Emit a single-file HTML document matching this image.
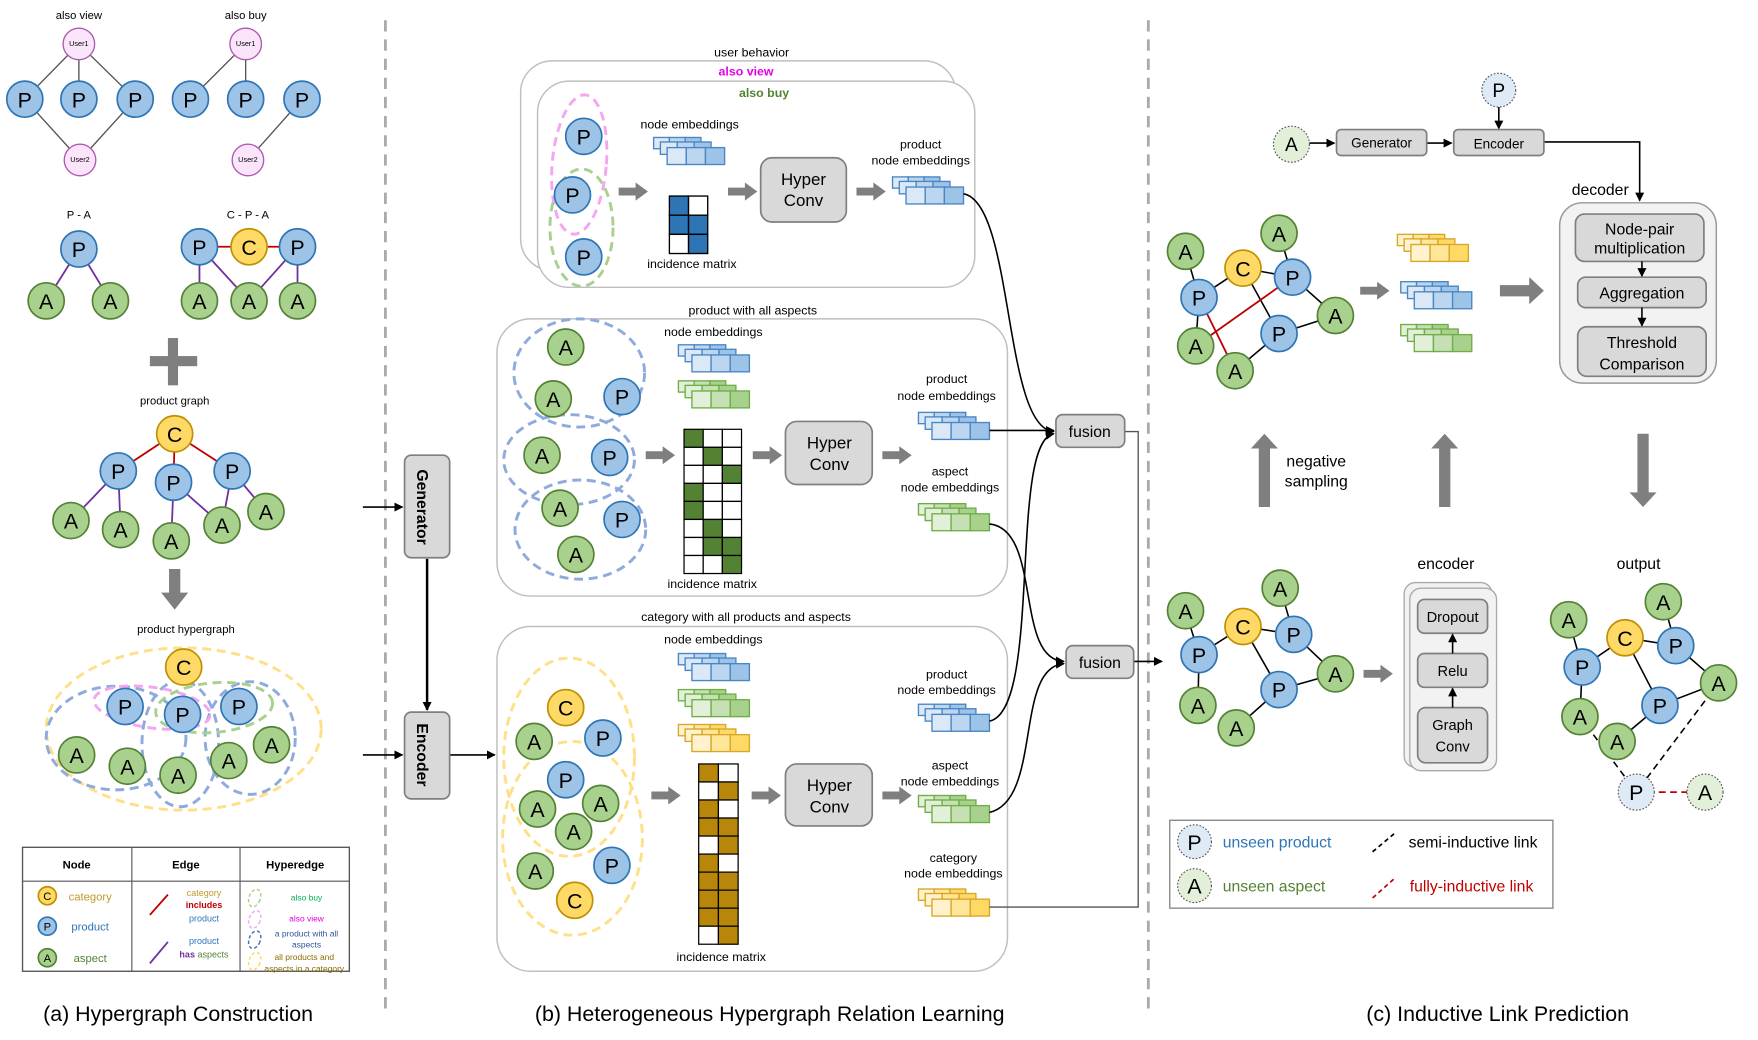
<!DOCTYPE html>
<html><head><meta charset="utf-8"><style>
html,body{margin:0;padding:0;background:#fff}
svg{display:block}
text{font-family:"Liberation Sans",sans-serif;fill:#000}
.p{fill:#9dc3e6;stroke:#2e75b6;stroke-width:1.5}
.a{fill:#a9d18e;stroke:#548235;stroke-width:1.5}
.c{fill:#ffd966;stroke:#bf9000;stroke-width:1.5}
.u{fill:#fbe5fb;stroke:#b05ab0;stroke-width:1.2}
.n{font-size:19px;text-anchor:middle;dominant-baseline:central}
.s{text-anchor:middle}
.box{fill:#d9d9d9;stroke:#7f7f7f;stroke-width:1.5}
.bl{stroke:#000;stroke-width:1.4;fill:none}
.pu{stroke:#7030a0;stroke-width:1.6}
.rd{stroke:#c00000;stroke-width:1.6}
.gray{stroke:#555;stroke-width:1.2}
.dash{fill:none;stroke-width:2.6;stroke-dasharray:8 5}
.panel{fill:#fff;stroke:#bfbfbf;stroke-width:1.3}
</style></head><body>
<svg width="1758" height="1040" viewBox="0 0 1560 923" preserveAspectRatio="none" font-size="11" xmlns="http://www.w3.org/2000/svg">
<defs>
<path id="ar" d="M0,-3.5 H15 V-8 L26,0 L15,8 V3.5 H0 Z" fill="#7f7f7f"/>
<marker id="mk" markerWidth="8" markerHeight="8" refX="7" refY="4" orient="auto" markerUnits="userSpaceOnUse"><path d="M0,0 L8,4 L0,8 Z" fill="#000"/></marker>
<g id="embB">
<g stroke="#4a86c5" stroke-width="1.2"><rect x="0" y="0" width="14" height="10" fill="#dbe9f7"/><rect x="14" y="0" width="14" height="10" fill="#bcd6ef"/><rect x="28" y="0" width="14" height="10" fill="#9dc3e6"/>
<rect x="6" y="4" width="15" height="11" fill="#dbe9f7"/><rect x="21" y="4" width="15" height="11" fill="#bcd6ef"/><rect x="36" y="4" width="15" height="11" fill="#9dc3e6"/>
<rect x="12" y="9" width="17" height="15" fill="#dbe9f7"/><rect x="29" y="9" width="17" height="15" fill="#bcd6ef"/><rect x="46" y="9" width="17" height="15" fill="#9dc3e6"/></g></g>
<g id="embG">
<g stroke="#70ad47" stroke-width="1.2"><rect x="0" y="0" width="14" height="10" fill="#e2f0d9"/><rect x="14" y="0" width="14" height="10" fill="#c5e0b4"/><rect x="28" y="0" width="14" height="10" fill="#a9d18e"/>
<rect x="6" y="4" width="15" height="11" fill="#e2f0d9"/><rect x="21" y="4" width="15" height="11" fill="#c5e0b4"/><rect x="36" y="4" width="15" height="11" fill="#a9d18e"/>
<rect x="12" y="9" width="17" height="15" fill="#e2f0d9"/><rect x="29" y="9" width="17" height="15" fill="#c5e0b4"/><rect x="46" y="9" width="17" height="15" fill="#a9d18e"/></g></g>
<g id="embY">
<g stroke="#d6a728" stroke-width="1.2"><rect x="0" y="0" width="14" height="10" fill="#fff2cc"/><rect x="14" y="0" width="14" height="10" fill="#ffe699"/><rect x="28" y="0" width="14" height="10" fill="#ffd966"/>
<rect x="6" y="4" width="15" height="11" fill="#fff2cc"/><rect x="21" y="4" width="15" height="11" fill="#ffe699"/><rect x="36" y="4" width="15" height="11" fill="#ffd966"/>
<rect x="12" y="9" width="17" height="15" fill="#fff2cc"/><rect x="29" y="9" width="17" height="15" fill="#ffe699"/><rect x="46" y="9" width="17" height="15" fill="#ffd966"/></g></g>
</defs>

<line x1="342" y1="18" x2="342" y2="895" stroke="#aaa" stroke-width="2.5" stroke-dasharray="10 7"/>
<line x1="1019" y1="18" x2="1019" y2="895" stroke="#aaa" stroke-width="2.5" stroke-dasharray="10 7"/>

<!-- ===== Panel (a) ===== -->
<text x="70" y="17" class="s" font-size="10">also view</text>
<text x="218" y="17" class="s" font-size="10">also buy</text>
<g class="gray">
<line x1="70" y1="39" x2="22" y2="88"/><line x1="70" y1="39" x2="70" y2="88"/><line x1="70" y1="39" x2="120" y2="88"/>
<line x1="22" y1="88" x2="71" y2="142"/><line x1="120" y1="88" x2="71" y2="142"/>
<line x1="218" y1="39" x2="169" y2="88"/><line x1="218" y1="39" x2="218" y2="88"/><line x1="268" y1="88" x2="220" y2="142"/>
</g>
<circle cx="70" cy="39" r="14" class="u"/><text x="70" y="41" class="s" font-size="6.5">User1</text>
<circle cx="71" cy="142" r="14" class="u"/><text x="71" y="144" class="s" font-size="6.5">User2</text>
<circle cx="218" cy="39" r="14" class="u"/><text x="218" y="41" class="s" font-size="6.5">User1</text>
<circle cx="220" cy="142" r="14" class="u"/><text x="220" y="144" class="s" font-size="6.5">User2</text>
<circle cx="22" cy="88" r="16" class="p"/><text x="22" y="89" class="n">P</text>
<circle cx="70" cy="88" r="16" class="p"/><text x="70" y="89" class="n">P</text>
<circle cx="120" cy="88" r="16" class="p"/><text x="120" y="89" class="n">P</text>
<circle cx="169" cy="88" r="16" class="p"/><text x="169" y="89" class="n">P</text>
<circle cx="218" cy="88" r="16" class="p"/><text x="218" y="89" class="n">P</text>
<circle cx="268" cy="88" r="16" class="p"/><text x="268" y="89" class="n">P</text>
<text x="70" y="194" class="s" font-size="10">P - A</text>
<text x="220" y="194" class="s" font-size="10">C - P - A</text>
<line x1="70" y1="221" x2="41" y2="267" class="pu"/><line x1="70" y1="221" x2="98" y2="267" class="pu"/>
<line x1="177" y1="219" x2="264" y2="219" class="rd"/>
<line x1="177" y1="219" x2="177" y2="267" class="pu"/><line x1="177" y1="219" x2="221" y2="267" class="pu"/>
<line x1="264" y1="219" x2="221" y2="267" class="pu"/><line x1="264" y1="219" x2="264" y2="267" class="pu"/>
<circle cx="70" cy="221" r="16" class="p"/><text x="70" y="222" class="n">P</text>
<circle cx="41" cy="267" r="16" class="a"/><text x="41" y="268" class="n">A</text>
<circle cx="98" cy="267" r="16" class="a"/><text x="98" y="268" class="n">A</text>
<circle cx="177" cy="219" r="16" class="p"/><text x="177" y="220" class="n">P</text>
<circle cx="221" cy="219" r="16" class="c"/><text x="221" y="220" class="n">C</text>
<circle cx="264" cy="219" r="16" class="p"/><text x="264" y="220" class="n">P</text>
<circle cx="177" cy="267" r="16" class="a"/><text x="177" y="268" class="n">A</text>
<circle cx="221" cy="267" r="16" class="a"/><text x="221" y="268" class="n">A</text>
<circle cx="264" cy="267" r="16" class="a"/><text x="264" y="268" class="n">A</text>
<rect x="133" y="316" width="42" height="9" fill="#7f7f7f"/><rect x="149" y="300" width="9" height="42" fill="#7f7f7f"/>
<text x="155" y="359" class="s" font-size="10">product graph</text>
<line x1="155" y1="385" x2="105" y2="418" class="rd"/><line x1="155" y1="385" x2="154" y2="428" class="rd"/><line x1="155" y1="385" x2="206" y2="418" class="rd"/>
<line x1="105" y1="418" x2="63" y2="462" class="pu"/><line x1="105" y1="418" x2="107" y2="470" class="pu"/>
<line x1="154" y1="428" x2="152" y2="480" class="pu"/><line x1="154" y1="428" x2="197" y2="466" class="pu"/>
<line x1="206" y1="418" x2="197" y2="466" class="pu"/><line x1="206" y1="418" x2="236" y2="454" class="pu"/>
<circle cx="155" cy="385" r="16" class="c"/><text x="155" y="386" class="n">C</text>
<circle cx="105" cy="418" r="16" class="p"/><text x="105" y="419" class="n">P</text>
<circle cx="154" cy="428" r="16" class="p"/><text x="154" y="429" class="n">P</text>
<circle cx="206" cy="418" r="16" class="p"/><text x="206" y="419" class="n">P</text>
<circle cx="63" cy="462" r="16" class="a"/><text x="63" y="463" class="n">A</text>
<circle cx="107" cy="470" r="16" class="a"/><text x="107" y="471" class="n">A</text>
<circle cx="152" cy="480" r="16" class="a"/><text x="152" y="481" class="n">A</text>
<circle cx="197" cy="466" r="16" class="a"/><text x="197" y="467" class="n">A</text>
<circle cx="236" cy="454" r="16" class="a"/><text x="236" y="455" class="n">A</text>
<path d="M150,505 H160 V526 H167 L155,541 L143,526 H150 Z" fill="#7f7f7f"/>
<text x="165" y="562" class="s" font-size="10">product hypergraph</text>
<ellipse cx="163" cy="647" rx="122" ry="72" class="dash" stroke="#ffe08a"/>
<ellipse cx="103" cy="655" rx="62" ry="46" class="dash" stroke="#8faadc"/>
<ellipse cx="160" cy="660" rx="34" ry="56" class="dash" stroke="#8faadc"/>
<ellipse cx="222" cy="655" rx="40" ry="50" class="dash" stroke="#8faadc"/>
<ellipse cx="135" cy="628" rx="52" ry="18" transform="rotate(8 135 628)" class="dash" stroke="#f4a6f0"/>
<ellipse cx="190" cy="628" rx="52" ry="22" transform="rotate(-5 190 628)" class="dash" stroke="#a9d18e"/>
<circle cx="163" cy="592" r="16" class="c"/><text x="163" y="593" class="n">C</text>
<circle cx="111" cy="627" r="16" class="p"/><text x="111" y="628" class="n">P</text>
<circle cx="162" cy="634" r="16" class="p"/><text x="162" y="635" class="n">P</text>
<circle cx="212" cy="627" r="16" class="p"/><text x="212" y="628" class="n">P</text>
<circle cx="68" cy="670" r="16" class="a"/><text x="68" y="671" class="n">A</text>
<circle cx="113" cy="680" r="16" class="a"/><text x="113" y="681" class="n">A</text>
<circle cx="158" cy="688" r="16" class="a"/><text x="158" y="689" class="n">A</text>
<circle cx="203" cy="675" r="16" class="a"/><text x="203" y="676" class="n">A</text>
<circle cx="241" cy="661" r="16" class="a"/><text x="241" y="662" class="n">A</text>
<rect x="20" y="752" width="290" height="110" fill="#fff" stroke="#555" stroke-width="1.2"/>
<line x1="20" y1="782" x2="310" y2="782" stroke="#555"/>
<line x1="117" y1="752" x2="117" y2="862" stroke="#555"/><line x1="213" y1="752" x2="213" y2="862" stroke="#555"/>
<text x="68" y="771" class="s" font-size="10" font-weight="bold">Node</text>
<text x="165" y="771" class="s" font-size="10" font-weight="bold">Edge</text>
<text x="262" y="771" class="s" font-size="10" font-weight="bold">Hyperedge</text>
<circle cx="42" cy="795" r="8" class="c"/><text x="42" y="796" class="n" style="font-size:10px">C</text>
<circle cx="42" cy="822" r="8" class="p"/><text x="42" y="823" class="n" style="font-size:10px">P</text>
<circle cx="42" cy="850" r="8" class="a"/><text x="42" y="851" class="n" style="font-size:10px">A</text>
<text x="80" y="799" class="s" font-size="10" style="fill:#c09a2a">category</text>
<text x="80" y="826" class="s" font-size="10" style="fill:#2e75b6">product</text>
<text x="80" y="854" class="s" font-size="10" style="fill:#548235">aspect</text>
<line x1="133" y1="812" x2="149" y2="794" class="rd"/>
<line x1="133" y1="855" x2="149" y2="836" class="pu"/>
<text x="181" y="795" class="s" font-size="8" style="fill:#c09a2a">category</text>
<text x="181" y="806" class="s" font-size="8" font-weight="bold" style="fill:#c00000">includes</text>
<text x="181" y="818" class="s" font-size="8" style="fill:#2e75b6">product</text>
<text x="181" y="838" class="s" font-size="8" style="fill:#2e75b6">product</text>
<text x="181" y="850" class="s" font-size="8"><tspan font-weight="bold" style="fill:#7030a0">has</tspan><tspan style="fill:#548235"> aspects</tspan></text>
<g fill="none" stroke-width="1.3" stroke-dasharray="3 2">
<ellipse cx="226" cy="797" rx="5" ry="8" transform="rotate(20 226 797)" stroke="#a9d18e"/>
<ellipse cx="226" cy="816" rx="5" ry="8" transform="rotate(20 226 816)" stroke="#f4a6f0"/>
<ellipse cx="226" cy="834" rx="5" ry="8" transform="rotate(20 226 834)" stroke="#4472c4"/>
<ellipse cx="226" cy="853" rx="5" ry="8" transform="rotate(20 226 853)" stroke="#ffd966"/>
</g>
<text x="272" y="799" class="s" font-size="7.5" style="fill:#00b050">also buy</text>
<text x="272" y="818" class="s" font-size="7.5" style="fill:#e000e0">also view</text>
<text x="272" y="831" class="s" font-size="7.5" style="fill:#2f5597">a product with all</text>
<text x="272" y="841" class="s" font-size="7.5" style="fill:#2f5597">aspects</text>
<text x="270" y="852" class="s" font-size="7.5" style="fill:#8a6d00">all products and</text>
<text x="270" y="862" class="s" font-size="7.5" style="fill:#8a6d00">aspects in a category</text>
<text x="158" y="906" class="s" font-size="19">(a) Hypergraph Construction</text>

<!-- ===== Panel (b) ===== -->
<line x1="322" y1="450" x2="357" y2="450" class="bl" marker-end="url(#mk)"/>
<line x1="322" y1="670" x2="357" y2="670" class="bl" marker-end="url(#mk)"/>
<line x1="379" y1="496" x2="379" y2="630" stroke="#000" stroke-width="2.2" marker-end="url(#mk)"/>
<line x1="399" y1="670" x2="439" y2="670" class="bl" marker-end="url(#mk)"/>
<rect x="359" y="404" width="40" height="91" rx="6" class="box"/>
<text transform="translate(374 450) rotate(90)" class="s" font-size="14" font-weight="bold" dominant-baseline="central">Generator</text>
<rect x="359" y="632" width="40" height="77" rx="6" class="box"/>
<text transform="translate(374 670) rotate(90)" class="s" font-size="14" font-weight="bold" dominant-baseline="central">Encoder</text>

<rect x="462" y="54" width="386" height="186" rx="28" class="panel"/>
<rect x="477" y="72" width="388" height="183" rx="28" class="panel"/>
<text x="667" y="50" class="s">user behavior</text>
<text x="662" y="67" class="s" font-weight="bold" style="fill:#e600e6">also view</text>
<text x="678" y="86" class="s" font-weight="bold" style="fill:#548235">also buy</text>
<ellipse cx="514" cy="146" rx="24" ry="62" transform="rotate(5 514 146)" class="dash" stroke="#f4a6f0"/>
<ellipse cx="516" cy="202" rx="28" ry="52" class="dash" stroke="#a9d18e"/>
<circle cx="518" cy="121" r="16" class="p"/><text x="518" y="122" class="n">P</text>
<circle cx="508" cy="173" r="16" class="p"/><text x="508" y="174" class="n">P</text>
<circle cx="518" cy="228" r="16" class="p"/><text x="518" y="229" class="n">P</text>
<text x="612" y="114" class="s">node embeddings</text>
<use href="#embB" x="580" y="122"/>
<use href="#ar" x="549" y="170"/>
<g stroke="#000" stroke-width="1.2">
<rect x="594" y="174" width="17" height="17" fill="#2e75b6"/><rect x="611" y="174" width="17" height="17" fill="#fff"/>
<rect x="594" y="191" width="17" height="17" fill="#2e75b6"/><rect x="611" y="191" width="17" height="17" fill="#2e75b6"/>
<rect x="594" y="208" width="17" height="17" fill="#fff"/><rect x="611" y="208" width="17" height="17" fill="#2e75b6"/>
</g>
<text x="614" y="238" class="s">incidence matrix</text>
<use href="#ar" x="646" y="170"/>
<rect x="675" y="140" width="76" height="57" rx="10" class="box"/>
<text x="713" y="164" class="s" font-size="15">Hyper</text><text x="713" y="183" class="s" font-size="15">Conv</text>
<use href="#ar" x="760" y="170"/>
<text x="817" y="132" class="s">product</text><text x="817" y="146" class="s">node embeddings</text>
<use href="#embB" x="792" y="157"/>

<rect x="441" y="283" width="453" height="246" rx="30" class="panel"/>
<text x="668" y="279" class="s">product with all aspects</text>
<ellipse cx="514" cy="331" rx="58" ry="48" class="dash" stroke="#8faadc"/>
<ellipse cx="505" cy="408" rx="58" ry="40" class="dash" stroke="#8faadc"/>
<ellipse cx="515" cy="470" rx="58" ry="44" class="dash" stroke="#8faadc"/>
<circle cx="502" cy="308" r="16" class="a"/><text x="502" y="309" class="n">A</text>
<circle cx="491" cy="354" r="16" class="a"/><text x="491" y="355" class="n">A</text>
<circle cx="552" cy="352" r="16" class="p"/><text x="552" y="353" class="n">P</text>
<circle cx="481" cy="404" r="16" class="a"/><text x="481" y="405" class="n">A</text>
<circle cx="541" cy="406" r="16" class="p"/><text x="541" y="407" class="n">P</text>
<circle cx="497" cy="451" r="16" class="a"/><text x="497" y="452" class="n">A</text>
<circle cx="552" cy="461" r="16" class="p"/><text x="552" y="462" class="n">P</text>
<circle cx="511" cy="492" r="16" class="a"/><text x="511" y="493" class="n">A</text>
<text x="633" y="298" class="s">node embeddings</text>
<use href="#embB" x="602" y="306"/>
<use href="#embG" x="602" y="338"/>
<use href="#ar" x="573" y="404"/>
<g stroke="#000" stroke-width="1.1" fill="#fff">
<rect x="607" y="381" width="17" height="16" fill="#548235"/><rect x="624" y="381" width="17" height="16"/><rect x="641" y="381" width="17" height="16"/>
<rect x="607" y="397" width="17" height="16"/><rect x="624" y="397" width="17" height="16" fill="#548235"/><rect x="641" y="397" width="17" height="16"/>
<rect x="607" y="413" width="17" height="16"/><rect x="624" y="413" width="17" height="16"/><rect x="641" y="413" width="17" height="16" fill="#548235"/>
<rect x="607" y="429" width="17" height="16" fill="#548235"/><rect x="624" y="429" width="17" height="16"/><rect x="641" y="429" width="17" height="16"/>
<rect x="607" y="445" width="17" height="16" fill="#548235"/><rect x="624" y="445" width="17" height="16"/><rect x="641" y="445" width="17" height="16"/>
<rect x="607" y="461" width="17" height="16"/><rect x="624" y="461" width="17" height="16" fill="#548235"/><rect x="641" y="461" width="17" height="16"/>
<rect x="607" y="477" width="17" height="16"/><rect x="624" y="477" width="17" height="16" fill="#548235"/><rect x="641" y="477" width="17" height="16" fill="#548235"/>
<rect x="607" y="493" width="17" height="16"/><rect x="624" y="493" width="17" height="16"/><rect x="641" y="493" width="17" height="16" fill="#548235"/>
</g>
<text x="632" y="522" class="s">incidence matrix</text>
<use href="#ar" x="668" y="404"/>
<rect x="697" y="374" width="77" height="56" rx="10" class="box"/>
<text x="736" y="398" class="s" font-size="15">Hyper</text><text x="736" y="417" class="s" font-size="15">Conv</text>
<use href="#ar" x="783" y="404"/>
<text x="840" y="340" class="s">product</text><text x="840" y="355" class="s">node embeddings</text>
<use href="#embB" x="815" y="366"/>
<text x="843" y="422" class="s">aspect</text><text x="843" y="436" class="s">node embeddings</text>
<use href="#embG" x="815" y="447"/>

<rect x="441" y="556" width="453" height="306" rx="30" class="panel"/>
<text x="662" y="551" class="s">category with all products and aspects</text>
<ellipse cx="505" cy="672" rx="58" ry="88" class="dash" stroke="#ffe08a"/>
<ellipse cx="508" cy="744" rx="62" ry="86" class="dash" stroke="#ffe08a"/>
<circle cx="502" cy="628" r="16" class="c"/><text x="502" y="629" class="n">C</text>
<circle cx="474" cy="658" r="16" class="a"/><text x="474" y="659" class="n">A</text>
<circle cx="535" cy="655" r="16" class="p"/><text x="535" y="656" class="n">P</text>
<circle cx="502" cy="692" r="16" class="p"/><text x="502" y="693" class="n">P</text>
<circle cx="477" cy="718" r="16" class="a"/><text x="477" y="719" class="n">A</text>
<circle cx="533" cy="713" r="16" class="a"/><text x="533" y="714" class="n">A</text>
<circle cx="509" cy="738" r="16" class="a"/><text x="509" y="739" class="n">A</text>
<circle cx="475" cy="773" r="16" class="a"/><text x="475" y="774" class="n">A</text>
<circle cx="543" cy="768" r="16" class="p"/><text x="543" y="769" class="n">P</text>
<circle cx="510" cy="799" r="16" class="c"/><text x="510" y="800" class="n">C</text>
<text x="633" y="571" class="s">node embeddings</text>
<use href="#embB" x="602" y="580"/>
<use href="#embG" x="602" y="612"/>
<use href="#embY" x="602" y="643"/>
<use href="#ar" x="578" y="706"/>
<g stroke="#000" stroke-width="1.1" fill="#fff">
<rect x="620" y="678" width="17.5" height="16" fill="#b8860b"/><rect x="637.5" y="678" width="17.5" height="16"/>
<rect x="620" y="694" width="17.5" height="16"/><rect x="637.5" y="694" width="17.5" height="16" fill="#b8860b"/>
<rect x="620" y="710" width="17.5" height="16" fill="#b8860b"/><rect x="637.5" y="710" width="17.5" height="16"/>
<rect x="620" y="726" width="17.5" height="16" fill="#b8860b"/><rect x="637.5" y="726" width="17.5" height="16" fill="#b8860b"/>
<rect x="620" y="742" width="17.5" height="16"/><rect x="637.5" y="742" width="17.5" height="16" fill="#b8860b"/>
<rect x="620" y="758" width="17.5" height="16" fill="#b8860b"/><rect x="637.5" y="758" width="17.5" height="16"/>
<rect x="620" y="774" width="17.5" height="16" fill="#b8860b"/><rect x="637.5" y="774" width="17.5" height="16" fill="#b8860b"/>
<rect x="620" y="790" width="17.5" height="16" fill="#b8860b"/><rect x="637.5" y="790" width="17.5" height="16" fill="#b8860b"/>
<rect x="620" y="806" width="17.5" height="16" fill="#b8860b"/><rect x="637.5" y="806" width="17.5" height="16" fill="#b8860b"/>
<rect x="620" y="822" width="17.5" height="16"/><rect x="637.5" y="822" width="17.5" height="16" fill="#b8860b"/>
</g>
<text x="640" y="853" class="s">incidence matrix</text>
<use href="#ar" x="667" y="706"/>
<rect x="697" y="678" width="77" height="55" rx="10" class="box"/>
<text x="736" y="702" class="s" font-size="15">Hyper</text><text x="736" y="721" class="s" font-size="15">Conv</text>
<use href="#ar" x="783" y="706"/>
<text x="840" y="602" class="s">product</text><text x="840" y="616" class="s">node embeddings</text>
<use href="#embB" x="815" y="625"/>
<text x="843" y="683" class="s">aspect</text><text x="843" y="697" class="s">node embeddings</text>
<use href="#embG" x="815" y="706"/>
<text x="846" y="765" class="s">category</text><text x="846" y="779" class="s">node embeddings</text>
<use href="#embY" x="815" y="789"/>

<g class="bl">
<path d="M855,172 C900,180 890,380 935,383" marker-end="url(#mk)"/>
<path d="M878,382 L935,382" marker-end="url(#mk)"/>
<path d="M878,640 C925,630 895,392 935,385" marker-end="url(#mk)"/>
<path d="M878,465 C925,470 900,585 944,587" marker-end="url(#mk)"/>
<path d="M878,721 C925,710 900,592 944,589" marker-end="url(#mk)"/>
<path d="M878,805 H1010 V383 H998" stroke-width="1.2" stroke="#555"/>
<path d="M1006,587 H1031" marker-end="url(#mk)"/>
</g>
<rect x="937" y="368" width="61" height="29" rx="6" class="box"/><text x="967" y="388" class="s" font-size="14">fusion</text>
<rect x="946" y="573" width="60" height="29" rx="6" class="box"/><text x="976" y="593" class="s" font-size="14">fusion</text>
<text x="683" y="906" class="s" font-size="19">(b) Heterogeneous Hypergraph Relation Learning</text>

<!-- ===== Panel (c) ===== -->
<line x1="1161" y1="127" x2="1184" y2="127" class="bl" marker-end="url(#mk)"/>
<line x1="1266" y1="127" x2="1288" y2="127" class="bl" marker-end="url(#mk)"/>
<line x1="1330" y1="95" x2="1330" y2="114" class="bl" marker-end="url(#mk)"/>
<path d="M1370,126 H1455 V178" class="bl" marker-end="url(#mk)"/>
<circle cx="1330" cy="80" r="15" fill="#deebf7" stroke="#555" stroke-dasharray="1.5 1.5"/><text x="1330" y="81" class="n" style="font-size:17px">P</text>
<circle cx="1146" cy="128" r="16" fill="#e2f0d9" stroke="#555" stroke-dasharray="1.5 1.5"/><text x="1146" y="129" class="n" style="font-size:17px">A</text>
<rect x="1186" y="115" width="80" height="23" rx="4" class="box"/><text x="1226" y="131" class="s" font-size="12">Generator</text>
<rect x="1290" y="115" width="80" height="23" rx="4" class="box"/><text x="1330" y="132" class="s" font-size="12">Encoder</text>
<text x="1420" y="173" class="s" font-size="14">decoder</text>
<rect x="1384" y="180" width="139" height="160" rx="20" fill="#f2f2f2" stroke="#999" stroke-width="1.3"/>
<rect x="1398" y="190" width="114" height="42" rx="8" class="box"/>
<text x="1455" y="208" class="s" font-size="14">Node-pair</text><text x="1455" y="225" class="s" font-size="14">multiplication</text>
<rect x="1400" y="246" width="114" height="27" rx="7" class="box"/><text x="1457" y="265" class="s" font-size="14">Aggregation</text>
<rect x="1400" y="290" width="114" height="44" rx="8" class="box"/>
<text x="1457" y="309" class="s" font-size="14">Threshold</text><text x="1457" y="328" class="s" font-size="14">Comparison</text>
<line x1="1457" y1="232" x2="1457" y2="245" class="bl" stroke-width="1" marker-end="url(#mk)"/>
<line x1="1457" y1="273" x2="1457" y2="289" class="bl" stroke-width="1" marker-end="url(#mk)"/>

<g class="bl">
<line x1="1052" y1="223" x2="1064" y2="264"/><line x1="1064" y1="264" x2="1103" y2="238"/><line x1="1103" y1="238" x2="1147" y2="246"/>
<line x1="1135" y1="207" x2="1147" y2="246"/><line x1="1103" y1="238" x2="1135" y2="296"/><line x1="1147" y1="246" x2="1185" y2="280"/>
<line x1="1064" y1="264" x2="1061" y2="307"/><line x1="1135" y1="296" x2="1185" y2="280"/><line x1="1135" y1="296" x2="1096" y2="329"/>
</g>
<line x1="1064" y1="264" x2="1096" y2="329" class="rd"/><line x1="1061" y1="307" x2="1147" y2="246" class="rd"/>
<circle cx="1052" cy="223" r="16" class="a"/><text x="1052" y="224" class="n">A</text>
<circle cx="1135" cy="207" r="16" class="a"/><text x="1135" y="208" class="n">A</text>
<circle cx="1103" cy="238" r="16" class="c"/><text x="1103" y="239" class="n">C</text>
<circle cx="1147" cy="246" r="16" class="p"/><text x="1147" y="247" class="n">P</text>
<circle cx="1064" cy="264" r="16" class="p"/><text x="1064" y="265" class="n">P</text>
<circle cx="1185" cy="280" r="16" class="a"/><text x="1185" y="281" class="n">A</text>
<circle cx="1135" cy="296" r="16" class="p"/><text x="1135" y="297" class="n">P</text>
<circle cx="1061" cy="307" r="16" class="a"/><text x="1061" y="308" class="n">A</text>
<circle cx="1096" cy="329" r="16" class="a"/><text x="1096" y="330" class="n">A</text>
<use href="#ar" x="1207" y="258"/>
<use href="#embY" x="1240" y="208"/>
<use href="#embB" x="1243" y="250"/>
<use href="#embG" x="1243" y="288"/>
<path d="M1331,253 H1357 V246 L1370,258 L1357,270 V263 H1331 Z" fill="#7f7f7f"/>
<path d="M1117,450 V398 H1110 L1122,385 L1134,398 H1127 V450 Z" fill="#7f7f7f"/>
<path d="M1277,450 V398 H1270 L1282,385 L1294,398 H1287 V450 Z" fill="#7f7f7f"/>
<path d="M1453,385 V437 H1446 L1458,450 L1470,437 H1463 V385 Z" fill="#7f7f7f"/>
<text x="1168" y="414" class="s" font-size="14">negative</text><text x="1168" y="432" class="s" font-size="14">sampling</text>

<g class="bl">
<line x1="1052" y1="542" x2="1064" y2="581"/><line x1="1064" y1="581" x2="1103" y2="556"/><line x1="1103" y1="556" x2="1148" y2="563"/>
<line x1="1136" y1="522" x2="1148" y2="563"/><line x1="1103" y1="556" x2="1135" y2="612"/><line x1="1148" y1="563" x2="1185" y2="598"/>
<line x1="1064" y1="581" x2="1063" y2="626"/><line x1="1135" y1="612" x2="1185" y2="598"/><line x1="1135" y1="612" x2="1097" y2="646"/>
</g>
<circle cx="1052" cy="542" r="16" class="a"/><text x="1052" y="543" class="n">A</text>
<circle cx="1136" cy="522" r="16" class="a"/><text x="1136" y="523" class="n">A</text>
<circle cx="1103" cy="556" r="16" class="c"/><text x="1103" y="557" class="n">C</text>
<circle cx="1148" cy="563" r="16" class="p"/><text x="1148" y="564" class="n">P</text>
<circle cx="1064" cy="581" r="16" class="p"/><text x="1064" y="582" class="n">P</text>
<circle cx="1185" cy="598" r="16" class="a"/><text x="1185" y="599" class="n">A</text>
<circle cx="1135" cy="612" r="16" class="p"/><text x="1135" y="613" class="n">P</text>
<circle cx="1063" cy="626" r="16" class="a"/><text x="1063" y="627" class="n">A</text>
<circle cx="1097" cy="646" r="16" class="a"/><text x="1097" y="647" class="n">A</text>
<use href="#ar" x="1210" y="598"/>

<text x="1283" y="505" class="s" font-size="14">encoder</text>
<rect x="1246" y="517" width="78" height="164" rx="10" fill="#f2f2f2" stroke="#aaa" stroke-width="1.2"/>
<rect x="1251" y="522" width="77" height="162" rx="10" fill="#f2f2f2" stroke="#aaa" stroke-width="1.2"/>
<rect x="1258" y="532" width="62" height="30" rx="6" class="box"/><text x="1289" y="552" class="s" font-size="13">Dropout</text>
<rect x="1258" y="580" width="62" height="30" rx="6" class="box"/><text x="1289" y="600" class="s" font-size="13">Relu</text>
<rect x="1258" y="628" width="62" height="49" rx="7" class="box"/>
<text x="1289" y="648" class="s" font-size="13">Graph</text><text x="1289" y="667" class="s" font-size="13">Conv</text>
<line x1="1289" y1="580" x2="1289" y2="563" class="bl" stroke-width="1" marker-end="url(#mk)"/>
<line x1="1289" y1="628" x2="1289" y2="611" class="bl" stroke-width="1" marker-end="url(#mk)"/>

<text x="1454" y="505" class="s" font-size="14">output</text>
<g class="bl">
<line x1="1392" y1="550" x2="1404" y2="592"/><line x1="1404" y1="592" x2="1442" y2="566"/><line x1="1442" y1="566" x2="1487" y2="573"/>
<line x1="1476" y1="534" x2="1487" y2="573"/><line x1="1442" y1="566" x2="1473" y2="626"/><line x1="1487" y1="573" x2="1525" y2="606"/>
<line x1="1404" y1="592" x2="1402" y2="636"/><line x1="1473" y1="626" x2="1525" y2="606"/><line x1="1473" y1="626" x2="1435" y2="658"/>
<line x1="1402" y1="636" x2="1452" y2="703" stroke-dasharray="6 4"/><line x1="1525" y1="606" x2="1452" y2="703" stroke-dasharray="6 4"/>
</g>
<line x1="1452" y1="703" x2="1513" y2="703" stroke="#c00000" stroke-width="1.6" stroke-dasharray="6 4"/>
<circle cx="1392" cy="550" r="16" class="a"/><text x="1392" y="551" class="n">A</text>
<circle cx="1476" cy="534" r="16" class="a"/><text x="1476" y="535" class="n">A</text>
<circle cx="1442" cy="566" r="16" class="c"/><text x="1442" y="567" class="n">C</text>
<circle cx="1487" cy="573" r="16" class="p"/><text x="1487" y="574" class="n">P</text>
<circle cx="1404" cy="592" r="16" class="p"/><text x="1404" y="593" class="n">P</text>
<circle cx="1525" cy="606" r="16" class="a"/><text x="1525" y="607" class="n">A</text>
<circle cx="1473" cy="626" r="16" class="p"/><text x="1473" y="627" class="n">P</text>
<circle cx="1402" cy="636" r="16" class="a"/><text x="1402" y="637" class="n">A</text>
<circle cx="1435" cy="658" r="16" class="a"/><text x="1435" y="659" class="n">A</text>
<circle cx="1452" cy="703" r="16" fill="#deebf7" stroke="#555" stroke-dasharray="1.5 1.5"/><text x="1452" y="704" class="n">P</text>
<circle cx="1513" cy="703" r="16" fill="#e2f0d9" stroke="#555" stroke-dasharray="1.5 1.5"/><text x="1513" y="704" class="n">A</text>

<rect x="1038" y="728" width="340" height="78" fill="#fff" stroke="#888" stroke-width="1.2"/>
<circle cx="1060" cy="747" r="15" fill="#deebf7" stroke="#555" stroke-dasharray="1.5 1.5"/><text x="1060" y="748" class="n">P</text>
<circle cx="1060" cy="786" r="15" fill="#e2f0d9" stroke="#555" stroke-dasharray="1.5 1.5"/><text x="1060" y="787" class="n">A</text>
<text x="1085" y="752" font-size="14" style="fill:#2e75b6">unseen product</text>
<text x="1085" y="791" font-size="14" style="fill:#548235">unseen aspect</text>
<line x1="1218" y1="756" x2="1237" y2="740" stroke="#000" stroke-width="1.5" stroke-dasharray="4 3"/>
<line x1="1218" y1="797" x2="1237" y2="780" stroke="#c00000" stroke-width="1.5" stroke-dasharray="4 3"/>
<text x="1250" y="752" font-size="14">semi-inductive link</text>
<text x="1251" y="791" font-size="14" style="fill:#c00000">fully-inductive link</text>
<text x="1329" y="906" class="s" font-size="19">(c) Inductive Link Prediction</text>
</svg>
</body></html>
